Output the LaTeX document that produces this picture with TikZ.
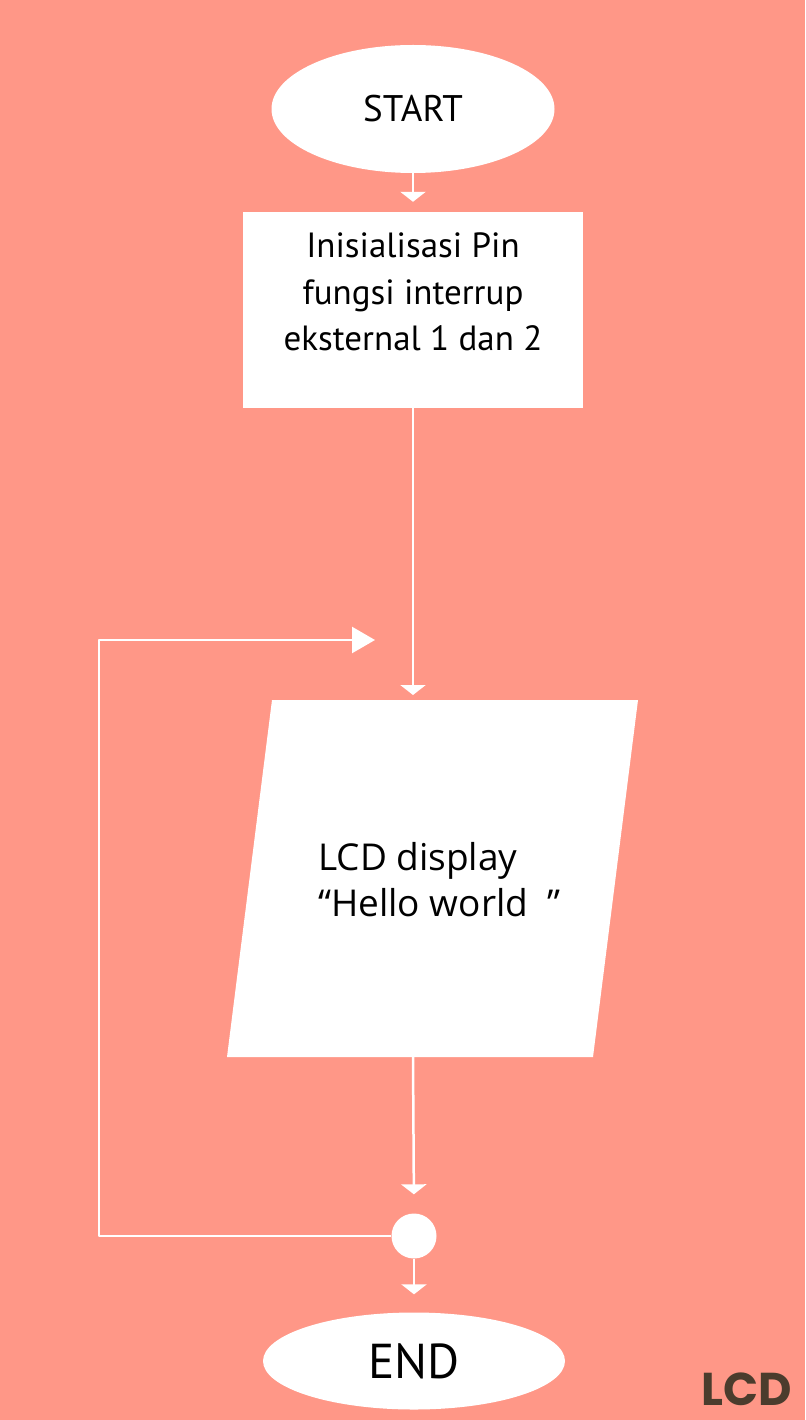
\documentclass[tikz,border=0pt]{standalone}
\usepackage{fontspec}
\setmainfont{PT Sans}
\newfontfamily\lcdfont{Open Sans}
\newfontfamily\logofont{Poppins}
\usetikzlibrary{arrows.meta,shapes.geometric}
\definecolor{lachs}{RGB}{255,151,135}
\definecolor{logobraun}{RGB}{75,60,45}

\begin{document}
\begin{tikzpicture}[line join=round,x=1pt,y=-1pt,
    flow/.style={draw=white,line width=2.5pt},
    pfeil/.style={flow,-{Triangle[length=10pt,width=25pt]}},
    terminal/.style={ellipse,fill=white,inner sep=0pt},
    kasten/.style={rectangle,fill=white,minimum width=340pt,minimum height=196pt}]
     \fill[lachs] (0,0) rectangle (805,1420); % Hintergrund
     \useasboundingbox (0,0) rectangle (805,1420);

     \node[terminal,minimum width=283pt,minimum height=128pt] (start) at (413,109) {\fontsize{37}{40}\selectfont START};
     \node[kasten] (init) at (413,310) {}; % Initialisierung
     \node[align=center,inner sep=0pt,font=\fontsize{35}{46.5}\selectfont] (inittext) at (413,292)
          {Inisialisasi Pin\\fungsi interrup\\eksternal 1 dan 2};
     % Ausgabe (Parallelogramm)
     \fill[white] (272,700) coordinate (lcdtl) -- (638,700) -- (593,1057) -- (227,1057) coordinate (lcdbl) -- cycle;
     \coordinate (lcdtop) at (413,700);
     \coordinate (lcdbot) at (413,1057);
     \node[align=left,anchor=west,inner sep=0pt,font=\lcdfont\fontsize{37}{46}\selectfont] (lcdtext) at (318,880)
          {LCD display\\“Hello world\hspace{10pt} ”};
     \node[circle,fill=white,minimum size=45pt,inner sep=0pt] (knoten) at (414,1236) {};
     \node[terminal,minimum width=302pt,minimum height=97pt] (ende) at (414,1361) {\fontsize{49}{54}\selectfont END};
     \node[anchor=base east,inner sep=0pt,text=logobraun,font=\logofont\bfseries\fontsize{46}{50}\selectfont] (logo) at (792,1405) {LCD};

     % Verbindungen
     \draw[pfeil,shorten >=10pt] (start.south) -- (init.north);
     \draw[pfeil,shorten >=5pt] (init.south) -- (lcdtop);
     \draw[pfeil,shorten >=19pt] (lcdbot) -- (knoten.north);
     \draw[pfeil,shorten >=18pt] (knoten.south) -- (ende.north);

     % Schleife zurueck
     \coordinate (ecke) at (99,640);
     \coordinate (schleife) at (375,640);
     \draw[flow,-{Triangle[length=23pt,width=26pt]}] (knoten.west) -| (ecke) -- (schleife);
\end{tikzpicture}
\end{document}
